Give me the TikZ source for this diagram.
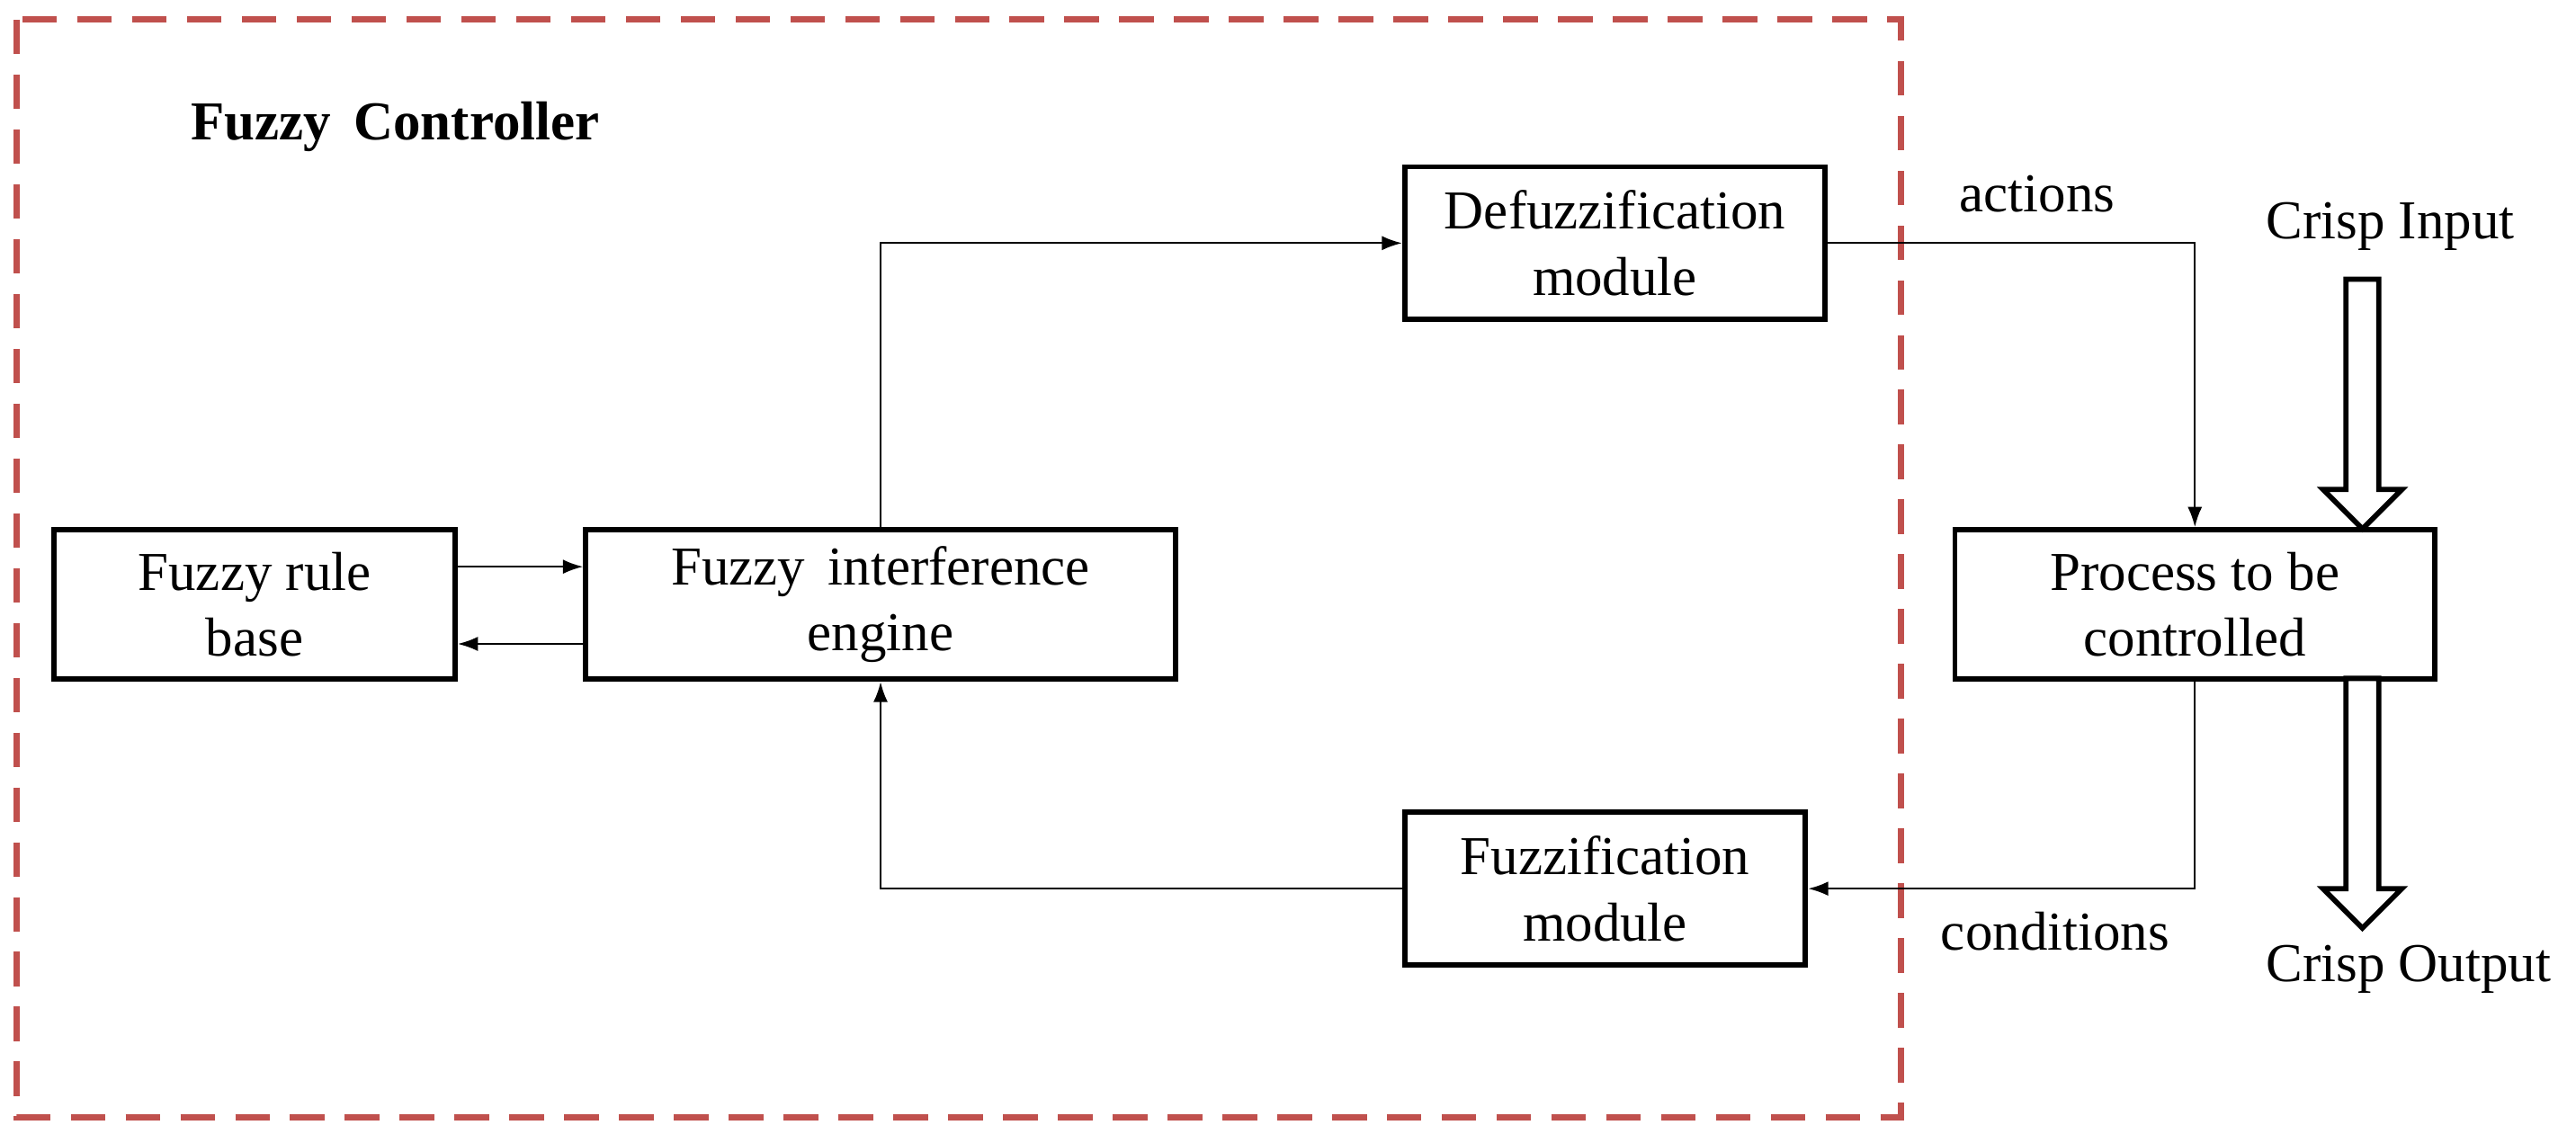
\documentclass[tikz,border=0pt]{standalone}
\usepackage{fontspec}
\setmainfont{Liberation Serif}
\usetikzlibrary{arrows.meta}
\definecolor{dred}{RGB}{192,80,77}
\begin{document}
\begin{tikzpicture}[x=0.02cm,y=-0.02cm,
  box/.style={draw,line width=1.8pt,align=center,font=\fontsize{19}{23}\selectfont,inner sep=0pt},
  lbl/.style={font=\fontsize{19}{23}\selectfont,inner sep=0pt},
  ar/.style={-{Latex[length=7pt,width=5pt]},line width=0.7pt},
  hol/.style={draw,line width=1.8pt,fill=white}]
\useasboundingbox (0,0) rectangle (1568,690);
\draw[dred,line width=2.2pt,dash pattern=on 12pt off 7pt] (10,12) rectangle (1157,680);
\node[font=\fontsize{19}{23}\selectfont\bfseries,anchor=west] (title) at (110,77) {Fuzzy\, Controller};
\node[box,minimum width=256*0.02cm,minimum height=93*0.02cm] (def) at (983,148) {Defuzzification\\module};
\node[box,minimum width=244*0.02cm,minimum height=91*0.02cm] (rule) at (155,368) {Fuzzy rule\\base};
\node[box,minimum width=359*0.02cm,minimum height=91*0.02cm] (eng) at (536,368) {Fuzzy\, interference\\engine};
\node[box,minimum width=244*0.02cm,minimum height=93*0.02cm] (fuz) at (977,541) {Fuzzification\\module};
\node[box,minimum width=292*0.02cm,minimum height=91*0.02cm] (proc) at (1336,368) {Process to be\\controlled};
\draw[ar] (rule.east|-0,345) -- (eng.west|-0,345);
\draw[ar] (eng.west|-0,392) -- (rule.east|-0,392);
\draw[ar] (eng.north) |- (def.west);
\draw[ar] (def.east) -| (proc.north);
\draw[ar] (proc.south) |- (fuz.east);
\draw[ar] (fuz.west) -| (eng.south);
\node[lbl] (act) at (1240,118) {actions};
\node[lbl] (cond) at (1251,567) {conditions};
\node[lbl] (ci) at (1455,138) {Crisp Input};
\node[lbl] (co) at (1466,590) {Crisp Output};
\draw[hol] (1428,170) -- (1448,170) -- (1448,298) -- (1462,298) -- (1438,322) -- (1414,298) -- (1428,298) -- cycle;
\draw[hol] (1428,413) -- (1448,413) -- (1448,541) -- (1462,541) -- (1438,565) -- (1414,541) -- (1428,541) -- cycle;
\end{tikzpicture}
\end{document}
